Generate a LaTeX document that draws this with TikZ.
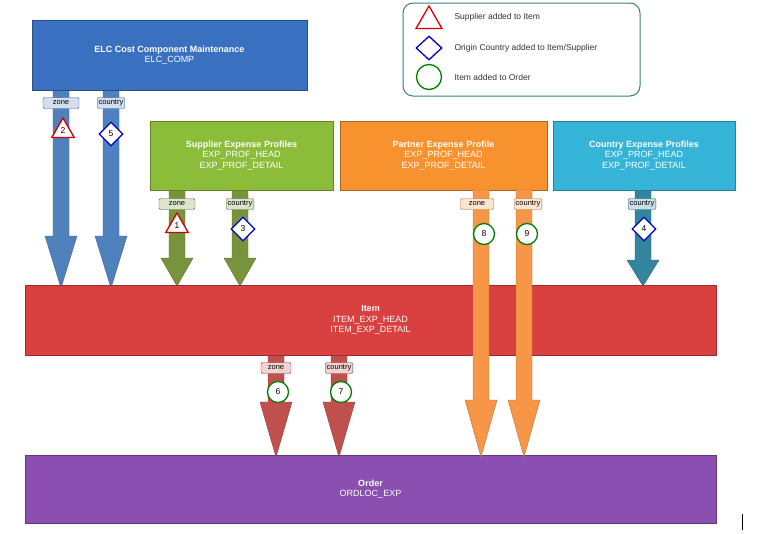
\documentclass[tikz,border=0pt]{standalone}
\usepackage{fontspec}
\setmainfont{Liberation Sans}
\usetikzlibrary{shapes.geometric}
\definecolor{cblue}{HTML}{3A70C0}
\definecolor{cgreen}{HTML}{8CBD3A}
\definecolor{corange}{HTML}{F7922E}
\definecolor{ccyan}{HTML}{36B4D8}
\definecolor{cred}{HTML}{D94040}
\definecolor{cpurple}{HTML}{8A4FB0}
\definecolor{ablue}{HTML}{4F81BD}
\definecolor{agreen}{HTML}{77933C}
\definecolor{aorange}{HTML}{F79646}
\definecolor{acyan}{HTML}{31859C}
\definecolor{ared}{HTML}{C0504D}
\tikzset{
 box/.style={draw=#1!70!black,fill=#1,text=white,align=center,font=\fontsize{9}{10.5}\selectfont,inner sep=0pt},
 tag/.style={draw=#1!70!black,fill=#1!25!white,rounded corners=1.5pt,font=\fontsize{7.5}{8}\selectfont,inner sep=1.5pt,minimum height=11pt},
 tri/.style={regular polygon,regular polygon sides=3,draw=red!80!black,fill=white,line width=1.3pt,inner sep=0pt,minimum size=26pt,font=\fontsize{8.5}{9}\selectfont},
 dia/.style={diamond,draw=blue!80!black,fill=white,line width=1.3pt,inner sep=0pt,minimum size=24pt,font=\fontsize{8.5}{9}\selectfont},
 circ/.style={circle,draw=green!50!black,fill=white,line width=1.3pt,inner sep=0pt,minimum size=21pt,font=\fontsize{8.5}{9}\selectfont},
}
\newcommand\bigarr[5]{% x, ytop, yheadstart, ybottom, color
 \fill[#5,draw=#5!75!black] (#1-8,#2) -- (#1+8,#2) -- (#1+8,#3) -- (#1+16,#3) -- (#1,#4) -- (#1-16,#3) -- (#1-8,#3) -- cycle;}
\begin{document}
\begin{tikzpicture}[x=1pt,y=-1pt]
\useasboundingbox (0,0) rectangle (766,533);
% arrows
\bigarr{61}{90}{236}{288}{ablue}
\bigarr{111}{90}{236}{288}{ablue}
\bigarr{177}{190}{258}{286}{agreen}
\bigarr{240}{190}{258}{286}{agreen}
\bigarr{643}{190}{260}{286}{acyan}
\bigarr{276}{355}{402}{457}{ared}
\bigarr{339}{355}{402}{457}{ared}
% boxes
\node[box=cblue,minimum width=275pt,minimum height=70pt] (elc) at (169.5,55) {\textbf{ELC Cost Component Maintenance}\\ELC\_COMP};
\node[box=cgreen,minimum width=183pt,minimum height=69pt] (sup) at (241.5,155.5) {\textbf{Supplier Expense Profiles}\\EXP\_PROF\_HEAD\\EXP\_PROF\_DETAIL};
\node[box=corange,minimum width=207pt,minimum height=69pt] (par) at (443.5,155.5) {\textbf{Partner Expense Profile}\\EXP\_PROF\_HEAD\\EXP\_PROF\_DETAIL};
\node[box=ccyan,minimum width=182pt,minimum height=69pt] (cou) at (644,155.5) {\textbf{Country Expense Profiles}\\EXP\_PROF\_HEAD\\EXP\_PROF\_DETAIL};
\node[box=cred,minimum width=691pt,minimum height=70pt] (item) at (370.5,320) {\textbf{Item}\\ITEM\_EXP\_HEAD\\ITEM\_EXP\_DETAIL};
\node[box=cpurple,minimum width=691pt,minimum height=68pt] (ord) at (370.5,489) {\textbf{Order}\\ORDLOC\_EXP};
% orange arrows over item
\bigarr{481}{190}{400}{457}{aorange}
\bigarr{524}{190}{400}{457}{aorange}
% tags
\node[tag=ablue,minimum width=36pt] (t1) at (61,103) {zone};
\node[tag=ablue] (t2) at (111,103) {country};
\node[tag=agreen,minimum width=36pt] (t3) at (177,204) {zone};
\node[tag=agreen] (t4) at (240,204) {country};
\node[tag=aorange,minimum width=33pt] (t5) at (477,204) {zone};
\node[tag=aorange] (t6) at (528,204) {country};
\node[tag=acyan] (t7) at (642,204) {country};
\node[tag=ared,minimum width=30pt] (t8) at (276,368) {zone};
\node[tag=ared] (t9) at (339,368) {country};
% markers
\node[tri] (m2) at (63,131) {\raisebox{-3pt}{2}};
\node[dia] (m5) at (111,134) {5};
\node[tri] (m1) at (177,226) {\raisebox{-3pt}{1}};
\node[dia] (m3) at (243,229) {3};
\node[dia] (m4) at (644,229) {4};
\node[circ] (m8) at (484,234) {8};
\node[circ] (m9) at (527,234) {9};
\node[circ] (m6) at (278,392) {6};
\node[circ] (m7) at (341,392) {7};
% legend
\node[draw=teal!60!gray,line width=1pt,rounded corners=10pt,fill=white,minimum width=237pt,minimum height=93pt] (leg) at (521.5,49.5) {};
\node[regular polygon,regular polygon sides=3,draw=red!85!black,line width=1.3pt,inner sep=0pt,minimum size=30pt] (lt) at (429,21) {};
\node[diamond,draw=blue!80!black,line width=1.3pt,inner sep=0pt,minimum width=26pt,minimum height=24pt] (ld) at (429,48) {};
\node[circle,draw=green!50!black,line width=1.3pt,inner sep=0pt,minimum size=25pt] (lc) at (429,77) {};
\node[anchor=west,font=\fontsize{8.5}{9}\selectfont,text=black!80] (l1) at (451,17) {Supplier added to Item};
\node[anchor=west,font=\fontsize{8.5}{9}\selectfont,text=black!80] (l2) at (451,48) {Origin Country added to Item/Supplier};
\node[anchor=west,font=\fontsize{8.5}{9}\selectfont,text=black!80] (l3) at (451,77) {Item added to Order};
\draw[line width=1pt] (742,514) -- (742,530);
\end{tikzpicture}
\end{document}
